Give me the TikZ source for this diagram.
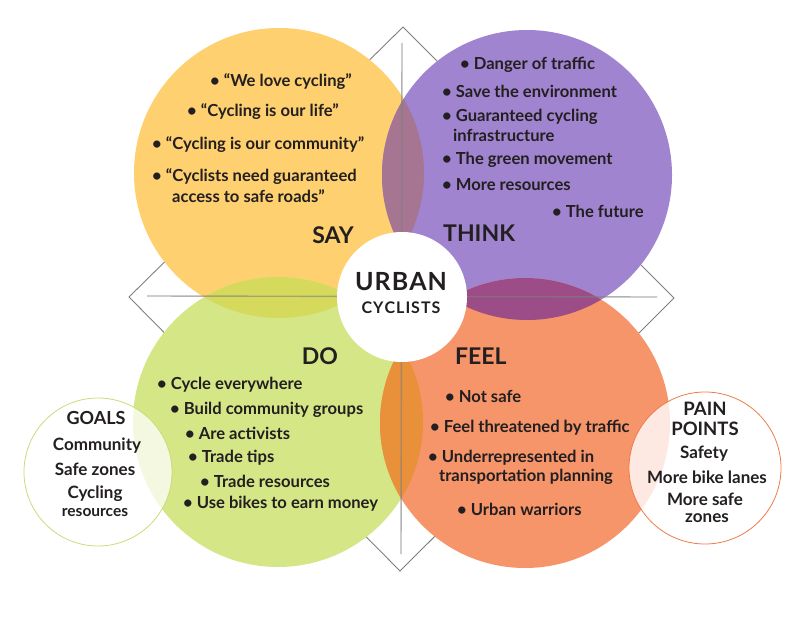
\documentclass[tikz,border=0pt]{standalone}
\usepackage{fontspec}
\setmainfont{Lato}
\definecolor{cy}{HTML}{FED06F}
\definecolor{cp}{HTML}{A084D0}
\definecolor{cg}{HTML}{D5E687}
\definecolor{co}{HTML}{F6956A}
\definecolor{cyp}{HTML}{A67592}
\definecolor{cpo}{HTML}{9C4C86}
\definecolor{cgo}{HTML}{E8913A}
\definecolor{cyg}{HTML}{D5DA5C}
\definecolor{txt}{HTML}{231F20}
\definecolor{gline}{HTML}{7F7F7F}
\definecolor{goalline}{HTML}{C9DC7C}
\definecolor{painline}{HTML}{EE7C4A}
\begin{document}
\begin{tikzpicture}[x=1pt,y=-1pt,
  every node/.style={inner sep=0pt, text=txt},
  item/.style={anchor=west, font=\bfseries\fontsize{16.6}{19}\selectfont},
  head/.style={font=\bfseries\fontsize{23}{26}\selectfont},
  side/.style={font=\bfseries\fontsize{17}{19}\selectfont},
  diam/.style={draw=gline, line width=0.9pt},
  cross/.style={draw=gline, line width=1.4pt, opacity=0.6}]
\useasboundingbox (0,0) rectangle (800,623);
% diamond
\coordinate (dt) at (403,27);
\coordinate (dr) at (674,298);
\coordinate (db) at (400,571);
\coordinate (dl) at (129,297);
\draw[diam] (dt) -- (dr) -- (db) -- (dl) -- cycle;
% circles
\coordinate (cY) at (279,173);
\coordinate (cP) at (527,175);
\coordinate (cG) at (278,422);
\coordinate (cO) at (525,423);
\fill[cy] (cY) circle (145pt);
\fill[cp] (cP) circle (145pt);
\fill[cg] (cG) circle (145pt);
\fill[co] (cO) circle (145pt);
\begin{scope}\clip (cY) circle (145pt); \fill[cyp] (cP) circle (145pt); \end{scope}
\begin{scope}\clip (cP) circle (145pt); \fill[cpo] (cO) circle (145pt); \end{scope}
\begin{scope}\clip (cG) circle (145pt); \fill[cgo] (cO) circle (145pt); \end{scope}
\begin{scope}\clip (cY) circle (145pt); \fill[cyg] (cG) circle (145pt); \end{scope}
% cross lines
\coordinate (vt) at (402,43);
\coordinate (vb) at (401,554);
\coordinate (hl) at (147,296);
\coordinate (hr) at (657,297);
\draw[cross] (vt) -- (vb);
\draw[cross] (hl) -- (hr);
% centre
\fill[white] (402,297) circle (65pt);
\node[font=\bfseries\fontsize{25}{28}\selectfont] (urban) at (401,282) {U\kern1pt R\kern1pt B\kern1pt A\kern1pt N};
\node[font=\bfseries\fontsize{16}{18}\selectfont] (cyc) at (401,308) {C\kern1pt Y\kern1pt C\kern1pt L\kern1pt I\kern1pt S\kern1pt T\kern1pt S};
% SAY
\node[item] (s1) at (210,82) {• “We love cycling”};
\node[item] (s2) at (187,112) {• “Cycling is our life”};
\node[item] (s3) at (152,145) {• “Cycling is our community”};
\node[item] (s4) at (152,177) {• “Cyclists need guaranteed};
\node[item] (s5) at (172,196) {access to safe roads”};
\node[head] (say) at (333,235) {SAY};
% THINK
\node[item] (t1) at (460,65) {• Danger of traffic};
\node[item] (t2) at (442,91) {• Save the environment};
\node[item] (t3) at (442,117) {• Guaranteed cycling};
\node[item] (t4) at (453,135) {infrastructure};
\node[item] (t5) at (442,160) {• The green movement};
\node[item] (t6) at (442,185) {• More resources};
\node[item] (t7) at (552,211) {• The future};
\node[head, anchor=west] (think) at (443,233) {THINK};
% DO
\node[head] (do) at (320,356) {DO};
\node[item] (d1) at (157,385) {• Cycle everywhere};
\node[item] (d2) at (170,410) {• Build community groups};
\node[item] (d3) at (185,433) {• Are activists};
\node[item] (d4) at (188,458) {• Trade tips};
\node[item] (d5) at (200,481) {• Trade resources};
\node[item] (d6) at (183,504) {• Use bikes to earn money};
% FEEL
\node[head, anchor=west] (feel) at (455,356) {FEEL};
\node[item] (f1) at (445,396) {• Not safe};
\node[item] (f2) at (430,428) {• Feel threatened by traffic};
\node[item] (f3) at (428,458) {• Underrepresented in};
\node[item] (f4) at (439,477) {transportation planning};
\node[item] (f5) at (457,509) {• Urban warriors};
% GOALS
\fill[white, fill opacity=0.75] (98,472) circle (74pt);
\draw[goalline, line width=0.8pt] (98,472) circle (74pt);
\node[side, font=\bfseries\fontsize{18}{20}\selectfont] (goals) at (96,418) {GOALS};
\node[side] (g1) at (97,446) {Community};
\node[side] (g2) at (95,469) {Safe zones};
\node[side] (g3) at (95,494) {Cycling};
\node[side, font=\bfseries\fontsize{15.5}{17}\selectfont] (g4) at (95,513) {resources};
% PAIN POINTS
\fill[white, fill opacity=0.8] (705,468) circle (76pt);
\draw[painline, line width=0.8pt] (705,468) circle (76pt);
\node[side, font=\bfseries\fontsize{18.5}{20}\selectfont] (pain) at (705,409) {PAIN};
\node[side, font=\bfseries\fontsize{18.5}{20}\selectfont] (points) at (705,429) {POINTS};
\node[side] (p1) at (704,454) {Safety};
\node[side] (p2) at (707,477) {More bike lanes};
\node[side] (p3) at (705,499) {More safe};
\node[side] (p4) at (707,518) {zones};
\end{tikzpicture}
\end{document}
